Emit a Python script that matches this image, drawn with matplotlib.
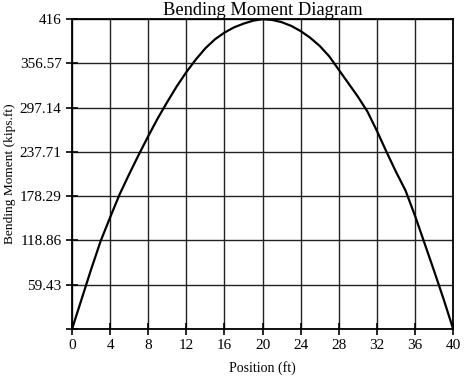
import matplotlib
matplotlib.use("Agg")
import matplotlib.pyplot as plt

# bending moment, every 1 ft
position_ft = list(range(0, 41))
moment_kft = [0, 40, 80, 118, 150, 181, 208, 234, 259, 283,
              305, 326, 345, 362, 377, 389, 398, 405, 410, 414,
              416, 415, 412, 407, 400, 391, 380, 366, 348, 330,
              312, 292, 266, 238, 211, 186, 152, 115, 78, 40, 0]

x_ticks = list(range(0, 41, 4))
y_ticks = [0, 59.43, 118.86, 178.29, 237.71, 297.14, 356.57, 416]
y_tick_labels = ["", "59.43", "118.86", "178.29", "237.71", "297.14", "356.57", "416"]

plt.rcParams["font.family"] = ["Liberation Serif", "DejaVu Serif"]

fig = plt.figure(figsize=(4.74, 3.76), dpi=100)
ax = fig.add_axes([0.152, 0.125, 0.804, 0.824])

ax.plot(position_ft, moment_kft, color="black", linewidth=1.6)

ax.set_xlim(0, 40)
ax.set_ylim(0, 416)
ax.set_xticks(x_ticks)
ax.set_yticks(y_ticks)
ax.set_yticklabels(y_tick_labels)
ax.grid(True, color="#222222", linewidth=1.0)
ax.tick_params(direction="inout", length=8, width=1.2, labelsize=11, colors="black")
for s in ax.spines.values():
    s.set_color("black")
    s.set_linewidth(1.3)

ax.set_title("Bending Moment Diagram", fontsize=13.3, pad=1)
ax.set_xlabel("Position (ft)", fontsize=10, labelpad=6)
ax.set_ylabel("Bending Moment (kips.ft)", fontsize=9.6, labelpad=3)

fig.savefig("out.png", dpi=100)
